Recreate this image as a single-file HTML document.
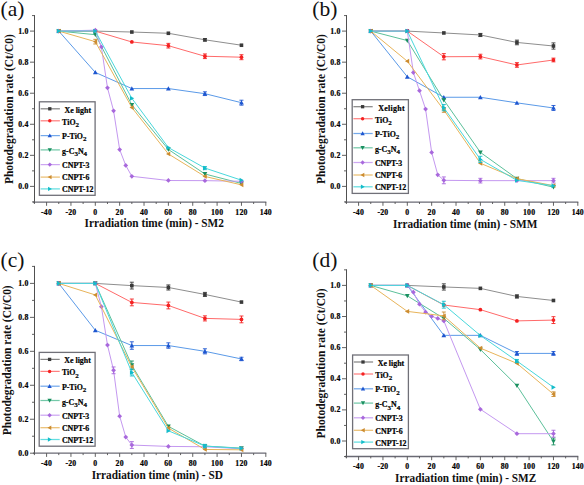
<!DOCTYPE html>
<html><head><meta charset="utf-8"><style>
html,body{margin:0;padding:0;background:#fff;}
svg{display:block;}
text{font-family:'Liberation Serif', serif;}
.t{font-size:7.8px;font-weight:bold;fill:#000;stroke:#000;stroke-width:0.2px;letter-spacing:0.2px;}
.al{font-size:12.7px;font-weight:bold;fill:#111;}
.pl{font-size:21.5px;fill:#111;}
.yl{font-size:12.7px;}
.lg{font-size:7.9px;font-weight:bold;fill:#000;stroke:#000;stroke-width:0.2px;}
.sb{font-size:7.03px;}
</style></head><body>
<svg width="584" height="485" viewBox="0 0 584 485">
<rect width="584" height="485" fill="#fff"/>
<g id="pa"><path d="M34.5 15.07V203.1" stroke="#505050" stroke-width="1.0" fill="none"/>
<path d="M33 202.1H266.32" stroke="#6a6a74" stroke-width="1.3" fill="none"/>
<path d="M34.4 202.1v1.9M46.58 202.1v3.7M58.76 202.1v1.9M70.94 202.1v3.7M83.12 202.1v1.9M95.3 202.1v3.7M107.48 202.1v1.9M119.66 202.1v3.7M131.84 202.1v1.9M144.02 202.1v3.7M156.2 202.1v1.9M168.38 202.1v3.7M180.56 202.1v1.9M192.74 202.1v3.7M204.92 202.1v1.9M217.1 202.1v3.7M229.28 202.1v1.9M241.46 202.1v3.7M253.64 202.1v1.9M265.82 202.1v3.7M34.5 201.93h-2.5M34.5 186.4h-4.5M34.5 170.87h-2.5M34.5 155.34h-4.5M34.5 139.81h-2.5M34.5 124.28h-4.5M34.5 108.75h-2.5M34.5 93.22h-4.5M34.5 77.69h-2.5M34.5 62.16h-4.5M34.5 46.63h-2.5M34.5 31.1h-4.5M34.5 15.57h-2.5" stroke="#505050" stroke-width="0.9" fill="none"/>
<text x="46.58" y="214.7" text-anchor="middle" class="t">-40</text>
<text x="70.94" y="214.7" text-anchor="middle" class="t">-20</text>
<text x="95.3" y="214.7" text-anchor="middle" class="t">0</text>
<text x="119.66" y="214.7" text-anchor="middle" class="t">20</text>
<text x="144.02" y="214.7" text-anchor="middle" class="t">40</text>
<text x="168.38" y="214.7" text-anchor="middle" class="t">60</text>
<text x="192.74" y="214.7" text-anchor="middle" class="t">80</text>
<text x="217.1" y="214.7" text-anchor="middle" class="t">100</text>
<text x="241.46" y="214.7" text-anchor="middle" class="t">120</text>
<text x="265.82" y="214.7" text-anchor="middle" class="t">140</text>
<text x="28.6" y="189" text-anchor="end" class="t">0.0</text>
<text x="28.6" y="157.94" text-anchor="end" class="t">0.2</text>
<text x="28.6" y="126.88" text-anchor="end" class="t">0.4</text>
<text x="28.6" y="95.82" text-anchor="end" class="t">0.6</text>
<text x="28.6" y="64.76" text-anchor="end" class="t">0.8</text>
<text x="28.6" y="33.7" text-anchor="end" class="t">1.0</text>
<text transform="translate(84.6 227.1) scale(0.89 1)" class="al">Irradiation time (min) - SM2</text>
<text transform="translate(12.8 184.1) rotate(-90) scale(0.901 1)" class="al yl">Photodegradation rate (Ct/C0)</text>
<text x="0.6" y="16.3" class="pl">(a)</text>
<polyline points="58.76,31.1 95.3,31.1 131.84,32.03 168.38,33.27 204.92,39.8 241.46,45.23" stroke="#8e8e8e" stroke-width="1.0" fill="none" stroke-linejoin="round"/>
<path d="M204.92 38.55V41.04M202.92 38.55h4M202.92 41.04h4" stroke="#3a3a3a" stroke-width="0.9" fill="none"/>
<rect x="56.96" y="29.3" width="3.6" height="3.6" fill="#3a3a3a"/>
<rect x="93.5" y="29.3" width="3.6" height="3.6" fill="#3a3a3a"/>
<rect x="130.04" y="30.23" width="3.6" height="3.6" fill="#3a3a3a"/>
<rect x="166.58" y="31.47" width="3.6" height="3.6" fill="#3a3a3a"/>
<rect x="203.12" y="38" width="3.6" height="3.6" fill="#3a3a3a"/>
<rect x="239.66" y="43.43" width="3.6" height="3.6" fill="#3a3a3a"/>
<polyline points="58.76,31.1 95.3,31.1 131.84,41.97 168.38,45.7 204.92,56.26 241.46,57.19" stroke="#ff6a6a" stroke-width="1.0" fill="none" stroke-linejoin="round"/>
<path d="M168.38 43.37V48.03M166.38 43.37h4M166.38 48.03h4M204.92 53.93V58.59M202.92 53.93h4M202.92 58.59h4M241.46 54.71V59.68M239.46 54.71h4M239.46 59.68h4" stroke="#f42222" stroke-width="0.9" fill="none"/>
<circle cx="58.76" cy="31.1" r="1.89" fill="#f42222"/>
<circle cx="95.3" cy="31.1" r="1.89" fill="#f42222"/>
<circle cx="131.84" cy="41.97" r="1.89" fill="#f42222"/>
<circle cx="168.38" cy="45.7" r="1.89" fill="#f42222"/>
<circle cx="204.92" cy="56.26" r="1.89" fill="#f42222"/>
<circle cx="241.46" cy="57.19" r="1.89" fill="#f42222"/>
<polyline points="58.76,31.1 95.3,72.41 131.84,88.56 168.38,88.56 204.92,93.69 241.46,102.69" stroke="#5b9ae8" stroke-width="1.0" fill="none" stroke-linejoin="round"/>
<path d="M204.92 91.82V95.55M202.92 91.82h4M202.92 95.55h4M241.46 100.21V105.18M239.46 100.21h4M239.46 105.18h4" stroke="#1e56d0" stroke-width="0.9" fill="none"/>
<polygon points="58.76,28.72 61.14,33 56.38,33" fill="#1e56d0"/>
<polygon points="95.3,70.03 97.68,74.31 92.92,74.31" fill="#1e56d0"/>
<polygon points="131.84,86.18 134.22,90.46 129.46,90.46" fill="#1e56d0"/>
<polygon points="168.38,86.18 170.76,90.46 166,90.46" fill="#1e56d0"/>
<polygon points="204.92,91.31 207.3,95.59 202.54,95.59" fill="#1e56d0"/>
<polygon points="241.46,100.32 243.84,104.59 239.08,104.59" fill="#1e56d0"/>
<polyline points="58.76,31.1 95.3,34.67 131.84,104.87 168.38,149.44 204.92,173.98 241.46,183.45" stroke="#5cc09a" stroke-width="1.0" fill="none" stroke-linejoin="round"/>
<polygon points="58.76,33.48 61.14,29.2 56.38,29.2" fill="#1a9060"/>
<polygon points="95.3,37.05 97.68,32.77 92.92,32.77" fill="#1a9060"/>
<polygon points="131.84,107.24 134.22,102.97 129.46,102.97" fill="#1a9060"/>
<polygon points="168.38,151.81 170.76,147.54 166,147.54" fill="#1a9060"/>
<polygon points="204.92,176.35 207.3,172.08 202.54,172.08" fill="#1a9060"/>
<polygon points="241.46,185.83 243.84,181.55 239.08,181.55" fill="#1a9060"/>
<polyline points="58.76,31.1 95.3,30.17 101.39,46.94 107.48,87.78 113.57,110.77 119.66,149.59 125.75,165.43 131.84,176.31 168.38,180.5 204.92,180.65 241.46,181.28" stroke="#c498f0" stroke-width="1.0" fill="none" stroke-linejoin="round"/>
<polygon points="58.76,28.72 61.14,31.1 58.76,33.48 56.38,31.1" fill="#a868dc"/>
<polygon points="95.3,27.79 97.68,30.17 95.3,32.54 92.92,30.17" fill="#a868dc"/>
<polygon points="101.39,44.56 103.77,46.94 101.39,49.32 99.01,46.94" fill="#a868dc"/>
<polygon points="107.48,85.41 109.86,87.78 107.48,90.16 105.1,87.78" fill="#a868dc"/>
<polygon points="113.57,108.39 115.95,110.77 113.57,113.14 111.19,110.77" fill="#a868dc"/>
<polygon points="119.66,147.22 122.04,149.59 119.66,151.97 117.28,149.59" fill="#a868dc"/>
<polygon points="125.75,163.06 128.13,165.43 125.75,167.81 123.37,165.43" fill="#a868dc"/>
<polygon points="131.84,173.93 134.22,176.31 131.84,178.68 129.46,176.31" fill="#a868dc"/>
<polygon points="168.38,178.12 170.76,180.5 168.38,182.87 166,180.5" fill="#a868dc"/>
<polygon points="204.92,178.28 207.3,180.65 204.92,183.03 202.54,180.65" fill="#a868dc"/>
<polygon points="241.46,178.9 243.84,181.28 241.46,183.65 239.08,181.28" fill="#a868dc"/>
<polyline points="58.76,31.1 95.3,41.66 131.84,107.51 168.38,153.94 204.92,176.46 241.46,184.85" stroke="#e8b45a" stroke-width="1.0" fill="none" stroke-linejoin="round"/>
<path d="M95.3 39.33V43.99M93.3 39.33h4M93.3 43.99h4" stroke="#cc8c30" stroke-width="0.9" fill="none"/>
<polygon points="56.38,31.1 60.66,28.72 60.66,33.48" fill="#cc8c30"/>
<polygon points="92.92,41.66 97.2,39.28 97.2,44.04" fill="#cc8c30"/>
<polygon points="129.46,107.51 133.74,105.13 133.74,109.88" fill="#cc8c30"/>
<polygon points="166,153.94 170.28,151.57 170.28,156.32" fill="#cc8c30"/>
<polygon points="202.54,176.46 206.82,174.08 206.82,178.84" fill="#cc8c30"/>
<polygon points="239.08,184.85 243.36,182.47 243.36,187.22" fill="#cc8c30"/>
<polyline points="58.76,31.1 95.3,31.1 131.84,98.34 168.38,147.57 204.92,168.07 241.46,180.19" stroke="#48d8dc" stroke-width="1.0" fill="none" stroke-linejoin="round"/>
<path d="M204.92 166.52V169.63M202.92 166.52h4M202.92 169.63h4" stroke="#14bcca" stroke-width="0.9" fill="none"/>
<polygon points="61.14,31.1 56.86,28.72 56.86,33.48" fill="#14bcca"/>
<polygon points="97.68,31.1 93.4,28.72 93.4,33.48" fill="#14bcca"/>
<polygon points="134.22,98.34 129.94,95.97 129.94,100.72" fill="#14bcca"/>
<polygon points="170.76,147.57 166.48,145.2 166.48,149.95" fill="#14bcca"/>
<polygon points="207.3,168.07 203.02,165.7 203.02,170.45" fill="#14bcca"/>
<polygon points="243.84,180.19 239.56,177.81 239.56,182.56" fill="#14bcca"/>
<rect x="39.4" y="101.8" width="55.7" height="93.5" fill="#fff" stroke="#707078" stroke-width="1.3"/>
<path d="M40.6 108.8H59.9" stroke="#858585" stroke-width="1.25"/>
<rect x="48.15" y="107.15" width="3.3" height="3.3" fill="#3a3a3a"/>
<text x="64.5" y="112.6" class="lg">Xe light</text>
<path d="M40.6 120.8H59.9" stroke="#ff8080" stroke-width="1.25"/>
<circle cx="49.8" cy="120.8" r="1.73" fill="#f42222"/>
<text x="62.1" y="124.8" class="lg">TiO<tspan class="sb" dy="2.1">2</tspan></text>
<path d="M40.6 135.6H59.9" stroke="#74a9eb" stroke-width="1.25"/>
<polygon points="49.8,133.42 51.98,137.34 47.62,137.34" fill="#1e56d0"/>
<text x="62.1" y="139.2" class="lg">P-TiO<tspan class="sb" dy="2.1">2</tspan></text>
<path d="M40.6 149.9H59.9" stroke="#74c9a9" stroke-width="1.25"/>
<polygon points="49.8,152.08 51.98,148.16 47.62,148.16" fill="#1a9060"/>
<text x="62.1" y="154.2" class="lg">g-C<tspan class="sb" dy="2.1">3</tspan><tspan dy="-2.1">N</tspan><tspan class="sb" dy="2.1">4</tspan></text>
<path d="M40.6 164.6H59.9" stroke="#cda7f2" stroke-width="1.25"/>
<polygon points="49.8,162.42 51.98,164.6 49.8,166.78 47.62,164.6" fill="#a868dc"/>
<text x="62.1" y="168.1" class="lg">CNPT-3</text>
<path d="M40.6 177.1H59.9" stroke="#ebbf73" stroke-width="1.25"/>
<polygon points="47.62,177.1 51.54,174.92 51.54,179.28" fill="#cc8c30"/>
<text x="62.1" y="180.4" class="lg">CNPT-6</text>
<path d="M40.6 188.9H59.9" stroke="#63dee1" stroke-width="1.25"/>
<polygon points="51.98,188.9 48.06,186.72 48.06,191.08" fill="#14bcca"/>
<text x="62.1" y="192.4" class="lg">CNPT-12</text></g>
<g id="pb"><path d="M346.5 15.07V203.1" stroke="#505050" stroke-width="1.0" fill="none"/>
<path d="M345 202.1H578.32" stroke="#6a6a74" stroke-width="1.3" fill="none"/>
<path d="M346.4 202.1v1.9M358.58 202.1v3.7M370.76 202.1v1.9M382.94 202.1v3.7M395.12 202.1v1.9M407.3 202.1v3.7M419.48 202.1v1.9M431.66 202.1v3.7M443.84 202.1v1.9M456.02 202.1v3.7M468.2 202.1v1.9M480.38 202.1v3.7M492.56 202.1v1.9M504.74 202.1v3.7M516.92 202.1v1.9M529.1 202.1v3.7M541.28 202.1v1.9M553.46 202.1v3.7M565.64 202.1v1.9M577.82 202.1v3.7M346.5 201.93h-2.5M346.5 186.4h-4.5M346.5 170.87h-2.5M346.5 155.34h-4.5M346.5 139.81h-2.5M346.5 124.28h-4.5M346.5 108.75h-2.5M346.5 93.22h-4.5M346.5 77.69h-2.5M346.5 62.16h-4.5M346.5 46.63h-2.5M346.5 31.1h-4.5M346.5 15.57h-2.5" stroke="#505050" stroke-width="0.9" fill="none"/>
<text x="358.58" y="214.7" text-anchor="middle" class="t">-40</text>
<text x="382.94" y="214.7" text-anchor="middle" class="t">-20</text>
<text x="407.3" y="214.7" text-anchor="middle" class="t">0</text>
<text x="431.66" y="214.7" text-anchor="middle" class="t">20</text>
<text x="456.02" y="214.7" text-anchor="middle" class="t">40</text>
<text x="480.38" y="214.7" text-anchor="middle" class="t">60</text>
<text x="504.74" y="214.7" text-anchor="middle" class="t">80</text>
<text x="529.1" y="214.7" text-anchor="middle" class="t">100</text>
<text x="553.46" y="214.7" text-anchor="middle" class="t">120</text>
<text x="577.82" y="214.7" text-anchor="middle" class="t">140</text>
<text x="340.6" y="189" text-anchor="end" class="t">0.0</text>
<text x="340.6" y="157.94" text-anchor="end" class="t">0.2</text>
<text x="340.6" y="126.88" text-anchor="end" class="t">0.4</text>
<text x="340.6" y="95.82" text-anchor="end" class="t">0.6</text>
<text x="340.6" y="64.76" text-anchor="end" class="t">0.8</text>
<text x="340.6" y="33.7" text-anchor="end" class="t">1.0</text>
<text transform="translate(393 227.5) scale(0.89 1)" class="al">Irradiation time (min) - SMM</text>
<text transform="translate(324.6 184.1) rotate(-90) scale(0.901 1)" class="al yl">Photodegradation rate (Ct/C0)</text>
<text x="312.3" y="16.1" class="pl">(b)</text>
<polyline points="370.76,31.1 407.3,31.1 443.84,32.96 480.38,34.98 516.92,42.44 553.46,46.01" stroke="#8e8e8e" stroke-width="1.0" fill="none" stroke-linejoin="round"/>
<path d="M480.38 33.43V36.54M478.38 33.43h4M478.38 36.54h4M516.92 40.11V44.77M514.92 40.11h4M514.92 44.77h4M553.46 42.9V49.11M551.46 42.9h4M551.46 49.11h4" stroke="#3a3a3a" stroke-width="0.9" fill="none"/>
<rect x="368.96" y="29.3" width="3.6" height="3.6" fill="#3a3a3a"/>
<rect x="405.5" y="29.3" width="3.6" height="3.6" fill="#3a3a3a"/>
<rect x="442.04" y="31.16" width="3.6" height="3.6" fill="#3a3a3a"/>
<rect x="478.58" y="33.18" width="3.6" height="3.6" fill="#3a3a3a"/>
<rect x="515.12" y="40.64" width="3.6" height="3.6" fill="#3a3a3a"/>
<rect x="551.66" y="44.21" width="3.6" height="3.6" fill="#3a3a3a"/>
<polyline points="370.76,31.1 407.3,31.1 443.84,56.72 480.38,56.57 516.92,64.96 553.46,59.99" stroke="#ff6a6a" stroke-width="1.0" fill="none" stroke-linejoin="round"/>
<path d="M443.84 53.62V59.83M441.84 53.62h4M441.84 59.83h4M480.38 54.24V58.9M478.38 54.24h4M478.38 58.9h4M516.92 62.63V67.28M514.92 62.63h4M514.92 67.28h4M553.46 58.12V61.85M551.46 58.12h4M551.46 61.85h4" stroke="#f42222" stroke-width="0.9" fill="none"/>
<circle cx="370.76" cy="31.1" r="1.89" fill="#f42222"/>
<circle cx="407.3" cy="31.1" r="1.89" fill="#f42222"/>
<circle cx="443.84" cy="56.72" r="1.89" fill="#f42222"/>
<circle cx="480.38" cy="56.57" r="1.89" fill="#f42222"/>
<circle cx="516.92" cy="64.96" r="1.89" fill="#f42222"/>
<circle cx="553.46" cy="59.99" r="1.89" fill="#f42222"/>
<polyline points="370.76,31.1 407.3,76.76 443.84,97.26 480.38,97.26 516.92,102.85 553.46,107.97" stroke="#5b9ae8" stroke-width="1.0" fill="none" stroke-linejoin="round"/>
<path d="M553.46 105.49V110.46M551.46 105.49h4M551.46 110.46h4" stroke="#1e56d0" stroke-width="0.9" fill="none"/>
<polygon points="370.76,28.72 373.14,33 368.38,33" fill="#1e56d0"/>
<polygon points="407.3,74.38 409.68,78.66 404.92,78.66" fill="#1e56d0"/>
<polygon points="443.84,94.88 446.22,99.16 441.46,99.16" fill="#1e56d0"/>
<polygon points="480.38,94.88 482.76,99.16 478,99.16" fill="#1e56d0"/>
<polygon points="516.92,100.47 519.3,104.75 514.54,104.75" fill="#1e56d0"/>
<polygon points="553.46,105.6 555.84,109.87 551.08,109.87" fill="#1e56d0"/>
<polyline points="370.76,31.1 407.3,40.57 443.84,100.05 480.38,152.39 516.92,178.63 553.46,187.18" stroke="#5cc09a" stroke-width="1.0" fill="none" stroke-linejoin="round"/>
<polygon points="370.76,33.48 373.14,29.2 368.38,29.2" fill="#1a9060"/>
<polygon points="407.3,42.95 409.68,38.67 404.92,38.67" fill="#1a9060"/>
<polygon points="443.84,102.43 446.22,98.15 441.46,98.15" fill="#1a9060"/>
<polygon points="480.38,154.77 482.76,150.49 478,150.49" fill="#1a9060"/>
<polygon points="516.92,181.01 519.3,176.73 514.54,176.73" fill="#1a9060"/>
<polygon points="553.46,189.55 555.84,185.28 551.08,185.28" fill="#1a9060"/>
<polyline points="370.76,31.1 407.3,31.1 413.39,72.57 419.48,90.74 425.57,109.06 431.66,152.39 437.75,174.75 443.84,180.34 480.38,180.65 516.92,180.65 553.46,180.65" stroke="#c498f0" stroke-width="1.0" fill="none" stroke-linejoin="round"/>
<path d="M443.84 176.93V183.76M441.84 176.93h4M441.84 183.76h4M480.38 178.32V182.98M478.38 178.32h4M478.38 182.98h4M553.46 178.32V182.98M551.46 178.32h4M551.46 182.98h4" stroke="#a868dc" stroke-width="0.9" fill="none"/>
<polygon points="370.76,28.72 373.14,31.1 370.76,33.48 368.38,31.1" fill="#a868dc"/>
<polygon points="407.3,28.72 409.68,31.1 407.3,33.48 404.92,31.1" fill="#a868dc"/>
<polygon points="413.39,70.19 415.77,72.57 413.39,74.94 411.01,72.57" fill="#a868dc"/>
<polygon points="419.48,88.36 421.86,90.74 419.48,93.11 417.1,90.74" fill="#a868dc"/>
<polygon points="425.57,106.68 427.95,109.06 425.57,111.44 423.19,109.06" fill="#a868dc"/>
<polygon points="431.66,150.01 434.04,152.39 431.66,154.77 429.28,152.39" fill="#a868dc"/>
<polygon points="437.75,172.38 440.13,174.75 437.75,177.13 435.37,174.75" fill="#a868dc"/>
<polygon points="443.84,177.97 446.22,180.34 443.84,182.72 441.46,180.34" fill="#a868dc"/>
<polygon points="480.38,178.28 482.76,180.65 480.38,183.03 478,180.65" fill="#a868dc"/>
<polygon points="516.92,178.28 519.3,180.65 516.92,183.03 514.54,180.65" fill="#a868dc"/>
<polygon points="553.46,178.28 555.84,180.65 553.46,183.03 551.08,180.65" fill="#a868dc"/>
<polyline points="370.76,31.1 407.3,61.23 443.84,109.99 480.38,163.26 516.92,178.63 553.46,185.62" stroke="#e8b45a" stroke-width="1.0" fill="none" stroke-linejoin="round"/>
<path d="M443.84 107.66V112.32M441.84 107.66h4M441.84 112.32h4" stroke="#cc8c30" stroke-width="0.9" fill="none"/>
<polygon points="368.38,31.1 372.66,28.72 372.66,33.48" fill="#cc8c30"/>
<polygon points="404.92,61.23 409.2,58.85 409.2,63.6" fill="#cc8c30"/>
<polygon points="441.46,109.99 445.74,107.62 445.74,112.37" fill="#cc8c30"/>
<polygon points="478,163.26 482.28,160.88 482.28,165.64" fill="#cc8c30"/>
<polygon points="514.54,178.63 518.82,176.26 518.82,181.01" fill="#cc8c30"/>
<polygon points="551.08,185.62 555.36,183.25 555.36,188" fill="#cc8c30"/>
<polyline points="370.76,31.1 407.3,31.1 443.84,107.66 480.38,159.38 516.92,180.34 553.46,185.78" stroke="#48d8dc" stroke-width="1.0" fill="none" stroke-linejoin="round"/>
<path d="M443.84 104.56V110.77M441.84 104.56h4M441.84 110.77h4M480.38 156.27V162.48M478.38 156.27h4M478.38 162.48h4" stroke="#14bcca" stroke-width="0.9" fill="none"/>
<polygon points="373.14,31.1 368.86,28.72 368.86,33.48" fill="#14bcca"/>
<polygon points="409.68,31.1 405.4,28.72 405.4,33.48" fill="#14bcca"/>
<polygon points="446.22,107.66 441.94,105.29 441.94,110.04" fill="#14bcca"/>
<polygon points="482.76,159.38 478.48,157 478.48,161.75" fill="#14bcca"/>
<polygon points="519.3,180.34 515.02,177.97 515.02,182.72" fill="#14bcca"/>
<polygon points="555.84,185.78 551.56,183.4 551.56,188.15" fill="#14bcca"/>
<rect x="352.2" y="99.7" width="56.2" height="93.7" fill="#fff" stroke="#707078" stroke-width="1.3"/>
<path d="M353.4 106.7H372.7" stroke="#858585" stroke-width="1.25"/>
<rect x="360.95" y="105.05" width="3.3" height="3.3" fill="#3a3a3a"/>
<text x="378.2" y="110.5" class="lg" style="letter-spacing:0.3px">Xelight</text>
<path d="M353.4 118.7H372.7" stroke="#ff8080" stroke-width="1.25"/>
<circle cx="362.6" cy="118.7" r="1.73" fill="#f42222"/>
<text x="374.9" y="122.7" class="lg">TiO<tspan class="sb" dy="2.1">2</tspan></text>
<path d="M353.4 133.5H372.7" stroke="#74a9eb" stroke-width="1.25"/>
<polygon points="362.6,131.32 364.78,135.24 360.42,135.24" fill="#1e56d0"/>
<text x="374.9" y="137.1" class="lg">P-TiO<tspan class="sb" dy="2.1">2</tspan></text>
<path d="M353.4 147.8H372.7" stroke="#74c9a9" stroke-width="1.25"/>
<polygon points="362.6,149.98 364.78,146.06 360.42,146.06" fill="#1a9060"/>
<text x="374.9" y="152.1" class="lg">g-C<tspan class="sb" dy="2.1">3</tspan><tspan dy="-2.1">N</tspan><tspan class="sb" dy="2.1">4</tspan></text>
<path d="M353.4 162.5H372.7" stroke="#cda7f2" stroke-width="1.25"/>
<polygon points="362.6,160.32 364.78,162.5 362.6,164.68 360.42,162.5" fill="#a868dc"/>
<text x="374.9" y="166" class="lg">CNPT-3</text>
<path d="M353.4 175H372.7" stroke="#ebbf73" stroke-width="1.25"/>
<polygon points="360.42,175 364.34,172.82 364.34,177.18" fill="#cc8c30"/>
<text x="374.9" y="178.3" class="lg">CNPT-6</text>
<path d="M353.4 186.8H372.7" stroke="#63dee1" stroke-width="1.25"/>
<polygon points="364.78,186.8 360.86,184.62 360.86,188.98" fill="#14bcca"/>
<text x="374.9" y="190.3" class="lg">CNPT-12</text></g>
<g id="pc"><path d="M34.5 265.9V454.2" stroke="#505050" stroke-width="1.0" fill="none"/>
<path d="M33 453.2H266.32" stroke="#6a6a74" stroke-width="1.3" fill="none"/>
<path d="M34.4 453.2v1.9M46.58 453.2v3.7M58.76 453.2v1.9M70.94 453.2v3.7M83.12 453.2v1.9M95.3 453.2v3.7M107.48 453.2v1.9M119.66 453.2v3.7M131.84 453.2v1.9M144.02 453.2v3.7M156.2 453.2v1.9M168.38 453.2v3.7M180.56 453.2v1.9M192.74 453.2v3.7M204.92 453.2v1.9M217.1 453.2v3.7M229.28 453.2v1.9M241.46 453.2v3.7M253.64 453.2v1.9M265.82 453.2v3.7M34.5 453.2h-4.5M34.5 436.22h-2.5M34.5 419.24h-4.5M34.5 402.26h-2.5M34.5 385.28h-4.5M34.5 368.3h-2.5M34.5 351.32h-4.5M34.5 334.34h-2.5M34.5 317.36h-4.5M34.5 300.38h-2.5M34.5 283.4h-4.5M34.5 266.42h-2.5" stroke="#505050" stroke-width="0.9" fill="none"/>
<text x="46.58" y="465.8" text-anchor="middle" class="t">-40</text>
<text x="70.94" y="465.8" text-anchor="middle" class="t">-20</text>
<text x="95.3" y="465.8" text-anchor="middle" class="t">0</text>
<text x="119.66" y="465.8" text-anchor="middle" class="t">20</text>
<text x="144.02" y="465.8" text-anchor="middle" class="t">40</text>
<text x="168.38" y="465.8" text-anchor="middle" class="t">60</text>
<text x="192.74" y="465.8" text-anchor="middle" class="t">80</text>
<text x="217.1" y="465.8" text-anchor="middle" class="t">100</text>
<text x="241.46" y="465.8" text-anchor="middle" class="t">120</text>
<text x="265.82" y="465.8" text-anchor="middle" class="t">140</text>
<text x="28.6" y="455.8" text-anchor="end" class="t">0.0</text>
<text x="28.6" y="421.84" text-anchor="end" class="t">0.2</text>
<text x="28.6" y="387.88" text-anchor="end" class="t">0.4</text>
<text x="28.6" y="353.92" text-anchor="end" class="t">0.6</text>
<text x="28.6" y="319.96" text-anchor="end" class="t">0.8</text>
<text x="28.6" y="286" text-anchor="end" class="t">1.0</text>
<text transform="translate(91.7 479.4) scale(0.89 1)" class="al">Irradiation time (min) - SD</text>
<text transform="translate(10.9 435.2) rotate(-90) scale(0.901 1)" class="al yl">Photodegradation rate (Ct/C0)</text>
<text x="0.6" y="266.8" class="pl">(c)</text>
<polyline points="58.76,283.4 95.3,283.4 131.84,285.61 168.38,287.48 204.92,294.44 241.46,302.08" stroke="#8e8e8e" stroke-width="1.0" fill="none" stroke-linejoin="round"/>
<path d="M131.84 282.21V289M129.84 282.21h4M129.84 289h4M168.38 284.93V290.02M166.38 284.93h4M166.38 290.02h4M204.92 292.4V296.47M202.92 292.4h4M202.92 296.47h4" stroke="#3a3a3a" stroke-width="0.9" fill="none"/>
<rect x="56.96" y="281.6" width="3.6" height="3.6" fill="#3a3a3a"/>
<rect x="93.5" y="281.6" width="3.6" height="3.6" fill="#3a3a3a"/>
<rect x="130.04" y="283.81" width="3.6" height="3.6" fill="#3a3a3a"/>
<rect x="166.58" y="285.68" width="3.6" height="3.6" fill="#3a3a3a"/>
<rect x="203.12" y="292.64" width="3.6" height="3.6" fill="#3a3a3a"/>
<rect x="239.66" y="300.28" width="3.6" height="3.6" fill="#3a3a3a"/>
<polyline points="58.76,283.4 95.3,283.4 131.84,302.42 168.38,305.47 204.92,318.38 241.46,319.4" stroke="#ff6a6a" stroke-width="1.0" fill="none" stroke-linejoin="round"/>
<path d="M131.84 299.02V305.81M129.84 299.02h4M129.84 305.81h4M168.38 302.08V308.87M166.38 302.08h4M166.38 308.87h4M204.92 315.83V320.93M202.92 315.83h4M202.92 320.93h4M241.46 316V322.79M239.46 316h4M239.46 322.79h4" stroke="#f42222" stroke-width="0.9" fill="none"/>
<circle cx="58.76" cy="283.4" r="1.89" fill="#f42222"/>
<circle cx="95.3" cy="283.4" r="1.89" fill="#f42222"/>
<circle cx="131.84" cy="302.42" r="1.89" fill="#f42222"/>
<circle cx="168.38" cy="305.47" r="1.89" fill="#f42222"/>
<circle cx="204.92" cy="318.38" r="1.89" fill="#f42222"/>
<circle cx="241.46" cy="319.4" r="1.89" fill="#f42222"/>
<polyline points="58.76,283.4 95.3,330.26 131.84,345.55 168.38,345.55 204.92,351.32 241.46,358.96" stroke="#5b9ae8" stroke-width="1.0" fill="none" stroke-linejoin="round"/>
<path d="M131.84 341.81V349.28M129.84 341.81h4M129.84 349.28h4M168.38 342.83V348.26M166.38 342.83h4M166.38 348.26h4M204.92 348.77V353.87M202.92 348.77h4M202.92 353.87h4M241.46 357.26V360.66M239.46 357.26h4M239.46 360.66h4" stroke="#1e56d0" stroke-width="0.9" fill="none"/>
<polygon points="58.76,281.02 61.14,285.3 56.38,285.3" fill="#1e56d0"/>
<polygon points="95.3,327.89 97.68,332.17 92.92,332.17" fill="#1e56d0"/>
<polygon points="131.84,343.17 134.22,347.45 129.46,347.45" fill="#1e56d0"/>
<polygon points="168.38,343.17 170.76,347.45 166,347.45" fill="#1e56d0"/>
<polygon points="204.92,348.94 207.3,353.22 202.54,353.22" fill="#1e56d0"/>
<polygon points="241.46,356.58 243.84,360.86 239.08,360.86" fill="#1e56d0"/>
<polyline points="58.76,283.4 95.3,283.4 131.84,365.24 168.38,426.37 204.92,446.07 241.46,448.11" stroke="#5cc09a" stroke-width="1.0" fill="none" stroke-linejoin="round"/>
<path d="M131.84 361V369.49M129.84 361h4M129.84 369.49h4" stroke="#1a9060" stroke-width="0.9" fill="none"/>
<polygon points="58.76,285.78 61.14,281.5 56.38,281.5" fill="#1a9060"/>
<polygon points="95.3,285.78 97.68,281.5 92.92,281.5" fill="#1a9060"/>
<polygon points="131.84,367.62 134.22,363.34 129.46,363.34" fill="#1a9060"/>
<polygon points="168.38,428.75 170.76,424.47 166,424.47" fill="#1a9060"/>
<polygon points="204.92,448.44 207.3,444.17 202.54,444.17" fill="#1a9060"/>
<polygon points="241.46,450.48 243.84,446.21 239.08,446.21" fill="#1a9060"/>
<polyline points="58.76,283.4 95.3,283.4 101.39,306.66 107.48,345.04 113.57,370.34 119.66,416.18 125.75,437.07 131.84,445.05 168.38,446.41 204.92,446.75 241.46,448.79" stroke="#c498f0" stroke-width="1.0" fill="none" stroke-linejoin="round"/>
<path d="M113.57 366.94V373.73M111.57 366.94h4M111.57 373.73h4M131.84 441.65V448.45M129.84 441.65h4M129.84 448.45h4" stroke="#a868dc" stroke-width="0.9" fill="none"/>
<polygon points="58.76,281.02 61.14,283.4 58.76,285.78 56.38,283.4" fill="#a868dc"/>
<polygon points="95.3,281.02 97.68,283.4 95.3,285.78 92.92,283.4" fill="#a868dc"/>
<polygon points="101.39,304.29 103.77,306.66 101.39,309.04 99.01,306.66" fill="#a868dc"/>
<polygon points="107.48,342.66 109.86,345.04 107.48,347.41 105.1,345.04" fill="#a868dc"/>
<polygon points="113.57,367.96 115.95,370.34 113.57,372.71 111.19,370.34" fill="#a868dc"/>
<polygon points="119.66,413.81 122.04,416.18 119.66,418.56 117.28,416.18" fill="#a868dc"/>
<polygon points="125.75,434.69 128.13,437.07 125.75,439.44 123.37,437.07" fill="#a868dc"/>
<polygon points="131.84,442.67 134.22,445.05 131.84,447.43 129.46,445.05" fill="#a868dc"/>
<polygon points="168.38,444.03 170.76,446.41 168.38,448.78 166,446.41" fill="#a868dc"/>
<polygon points="204.92,444.37 207.3,446.75 204.92,449.12 202.54,446.75" fill="#a868dc"/>
<polygon points="241.46,446.41 243.84,448.79 241.46,451.16 239.08,448.79" fill="#a868dc"/>
<polyline points="58.76,283.4 95.3,294.95 131.84,366.94 168.38,428.07 204.92,449.46 241.46,449.8" stroke="#e8b45a" stroke-width="1.0" fill="none" stroke-linejoin="round"/>
<polygon points="56.38,283.4 60.66,281.02 60.66,285.78" fill="#cc8c30"/>
<polygon points="92.92,294.95 97.2,292.57 97.2,297.32" fill="#cc8c30"/>
<polygon points="129.46,366.94 133.74,364.57 133.74,369.32" fill="#cc8c30"/>
<polygon points="166,428.07 170.28,425.69 170.28,430.45" fill="#cc8c30"/>
<polygon points="202.54,449.46 206.82,447.09 206.82,451.84" fill="#cc8c30"/>
<polygon points="239.08,449.8 243.36,447.43 243.36,452.18" fill="#cc8c30"/>
<polyline points="58.76,283.4 95.3,283.4 131.84,372.54 168.38,430.79 204.92,446.07 241.46,448.45" stroke="#48d8dc" stroke-width="1.0" fill="none" stroke-linejoin="round"/>
<path d="M131.84 369.15V375.94M129.84 369.15h4M129.84 375.94h4M204.92 444.37V447.77M202.92 444.37h4M202.92 447.77h4" stroke="#14bcca" stroke-width="0.9" fill="none"/>
<polygon points="61.14,283.4 56.86,281.02 56.86,285.78" fill="#14bcca"/>
<polygon points="97.68,283.4 93.4,281.02 93.4,285.78" fill="#14bcca"/>
<polygon points="134.22,372.54 129.94,370.17 129.94,374.92" fill="#14bcca"/>
<polygon points="170.76,430.79 166.48,428.41 166.48,433.16" fill="#14bcca"/>
<polygon points="207.3,446.07 203.02,443.69 203.02,448.44" fill="#14bcca"/>
<polygon points="243.84,448.45 239.56,446.07 239.56,450.82" fill="#14bcca"/>
<rect x="39.2" y="352.4" width="55.9" height="93.8" fill="#fff" stroke="#707078" stroke-width="1.3"/>
<path d="M40.4 359.4H59.7" stroke="#858585" stroke-width="1.25"/>
<rect x="47.95" y="357.75" width="3.3" height="3.3" fill="#3a3a3a"/>
<text x="64.3" y="363.2" class="lg">Xe light</text>
<path d="M40.4 371.4H59.7" stroke="#ff8080" stroke-width="1.25"/>
<circle cx="49.6" cy="371.4" r="1.73" fill="#f42222"/>
<text x="61.9" y="375.4" class="lg">TiO<tspan class="sb" dy="2.1">2</tspan></text>
<path d="M40.4 386.2H59.7" stroke="#74a9eb" stroke-width="1.25"/>
<polygon points="49.6,384.02 51.78,387.94 47.42,387.94" fill="#1e56d0"/>
<text x="61.9" y="389.8" class="lg">P-TiO<tspan class="sb" dy="2.1">2</tspan></text>
<path d="M40.4 400.5H59.7" stroke="#74c9a9" stroke-width="1.25"/>
<polygon points="49.6,402.68 51.78,398.76 47.42,398.76" fill="#1a9060"/>
<text x="61.9" y="404.8" class="lg">g-C<tspan class="sb" dy="2.1">3</tspan><tspan dy="-2.1">N</tspan><tspan class="sb" dy="2.1">4</tspan></text>
<path d="M40.4 415.2H59.7" stroke="#cda7f2" stroke-width="1.25"/>
<polygon points="49.6,413.02 51.78,415.2 49.6,417.38 47.42,415.2" fill="#a868dc"/>
<text x="61.9" y="418.7" class="lg">CNPT-3</text>
<path d="M40.4 427.7H59.7" stroke="#ebbf73" stroke-width="1.25"/>
<polygon points="47.42,427.7 51.34,425.52 51.34,429.88" fill="#cc8c30"/>
<text x="61.9" y="431" class="lg">CNPT-6</text>
<path d="M40.4 439.5H59.7" stroke="#63dee1" stroke-width="1.25"/>
<polygon points="51.78,439.5 47.86,437.32 47.86,441.68" fill="#14bcca"/>
<text x="61.9" y="443" class="lg">CNPT-12</text></g>
<g id="pd"><path d="M346.5 269.3V457.5" stroke="#505050" stroke-width="1.0" fill="none"/>
<path d="M345 456.5H578.32" stroke="#6a6a74" stroke-width="1.3" fill="none"/>
<path d="M346.4 456.5v1.9M358.58 456.5v3.7M370.76 456.5v1.9M382.94 456.5v3.7M395.12 456.5v1.9M407.3 456.5v3.7M419.48 456.5v1.9M431.66 456.5v3.7M443.84 456.5v1.9M456.02 456.5v3.7M468.2 456.5v1.9M480.38 456.5v3.7M492.56 456.5v1.9M504.74 456.5v3.7M516.92 456.5v1.9M529.1 456.5v3.7M541.28 456.5v1.9M553.46 456.5v3.7M565.64 456.5v1.9M577.82 456.5v3.7M346.5 456.56h-2.5M346.5 441h-4.5M346.5 425.44h-2.5M346.5 409.88h-4.5M346.5 394.32h-2.5M346.5 378.76h-4.5M346.5 363.2h-2.5M346.5 347.64h-4.5M346.5 332.08h-2.5M346.5 316.52h-4.5M346.5 300.96h-2.5M346.5 285.4h-4.5M346.5 269.84h-2.5" stroke="#505050" stroke-width="0.9" fill="none"/>
<text x="358.58" y="469.1" text-anchor="middle" class="t">-40</text>
<text x="382.94" y="469.1" text-anchor="middle" class="t">-20</text>
<text x="407.3" y="469.1" text-anchor="middle" class="t">0</text>
<text x="431.66" y="469.1" text-anchor="middle" class="t">20</text>
<text x="456.02" y="469.1" text-anchor="middle" class="t">40</text>
<text x="480.38" y="469.1" text-anchor="middle" class="t">60</text>
<text x="504.74" y="469.1" text-anchor="middle" class="t">80</text>
<text x="529.1" y="469.1" text-anchor="middle" class="t">100</text>
<text x="553.46" y="469.1" text-anchor="middle" class="t">120</text>
<text x="577.82" y="469.1" text-anchor="middle" class="t">140</text>
<text x="340.6" y="443.6" text-anchor="end" class="t">0.0</text>
<text x="340.6" y="412.48" text-anchor="end" class="t">0.2</text>
<text x="340.6" y="381.36" text-anchor="end" class="t">0.4</text>
<text x="340.6" y="350.24" text-anchor="end" class="t">0.6</text>
<text x="340.6" y="319.12" text-anchor="end" class="t">0.8</text>
<text x="340.6" y="288" text-anchor="end" class="t">1.0</text>
<text transform="translate(395.1 481.5) scale(0.89 1)" class="al">Irradiation time (min) - SMZ</text>
<text transform="translate(324.6 438.4) rotate(-90) scale(0.901 1)" class="al yl">Photodegradation rate (Ct/C0)</text>
<text x="312.3" y="266.6" class="pl">(d)</text>
<polyline points="370.76,285.4 407.3,285.4 443.84,286.96 480.38,288.36 516.92,296.45 553.46,300.49" stroke="#8e8e8e" stroke-width="1.0" fill="none" stroke-linejoin="round"/>
<path d="M443.84 283.84V290.07M441.84 283.84h4M441.84 290.07h4M516.92 294.89V298M514.92 294.89h4M514.92 298h4" stroke="#3a3a3a" stroke-width="0.9" fill="none"/>
<rect x="368.96" y="283.6" width="3.6" height="3.6" fill="#3a3a3a"/>
<rect x="405.5" y="283.6" width="3.6" height="3.6" fill="#3a3a3a"/>
<rect x="442.04" y="285.16" width="3.6" height="3.6" fill="#3a3a3a"/>
<rect x="478.58" y="286.56" width="3.6" height="3.6" fill="#3a3a3a"/>
<rect x="515.12" y="294.65" width="3.6" height="3.6" fill="#3a3a3a"/>
<rect x="551.66" y="298.69" width="3.6" height="3.6" fill="#3a3a3a"/>
<polyline points="370.76,285.4 407.3,285.4 443.84,305.01 480.38,309.67 516.92,320.88 553.46,320.1" stroke="#ff6a6a" stroke-width="1.0" fill="none" stroke-linejoin="round"/>
<path d="M553.46 316.68V323.52M551.46 316.68h4M551.46 323.52h4" stroke="#f42222" stroke-width="0.9" fill="none"/>
<circle cx="370.76" cy="285.4" r="1.89" fill="#f42222"/>
<circle cx="407.3" cy="285.4" r="1.89" fill="#f42222"/>
<circle cx="443.84" cy="305.01" r="1.89" fill="#f42222"/>
<circle cx="480.38" cy="309.67" r="1.89" fill="#f42222"/>
<circle cx="516.92" cy="320.88" r="1.89" fill="#f42222"/>
<circle cx="553.46" cy="320.1" r="1.89" fill="#f42222"/>
<polyline points="370.76,285.4 407.3,285.4 443.84,335.35 480.38,335.35 516.92,353.4 553.46,353.4" stroke="#5b9ae8" stroke-width="1.0" fill="none" stroke-linejoin="round"/>
<path d="M516.92 351.53V355.26M514.92 351.53h4M514.92 355.26h4M553.46 351.53V355.26M551.46 351.53h4M551.46 355.26h4" stroke="#1e56d0" stroke-width="0.9" fill="none"/>
<polygon points="370.76,283.02 373.14,287.3 368.38,287.3" fill="#1e56d0"/>
<polygon points="407.3,283.02 409.68,287.3 404.92,287.3" fill="#1e56d0"/>
<polygon points="443.84,332.97 446.22,337.25 441.46,337.25" fill="#1e56d0"/>
<polygon points="480.38,332.97 482.76,337.25 478,337.25" fill="#1e56d0"/>
<polygon points="516.92,351.02 519.3,355.3 514.54,355.3" fill="#1e56d0"/>
<polygon points="553.46,351.02 555.84,355.3 551.08,355.3" fill="#1e56d0"/>
<polyline points="370.76,285.4 407.3,295.83 443.84,318.39 480.38,349.51 516.92,385.61 553.46,441.47" stroke="#5cc09a" stroke-width="1.0" fill="none" stroke-linejoin="round"/>
<path d="M553.46 438.04V444.89M551.46 438.04h4M551.46 444.89h4" stroke="#1a9060" stroke-width="0.9" fill="none"/>
<polygon points="370.76,287.78 373.14,283.5 368.38,283.5" fill="#1a9060"/>
<polygon points="407.3,298.2 409.68,293.92 404.92,293.92" fill="#1a9060"/>
<polygon points="443.84,320.76 446.22,316.49 441.46,316.49" fill="#1a9060"/>
<polygon points="480.38,351.88 482.76,347.61 478,347.61" fill="#1a9060"/>
<polygon points="516.92,387.98 519.3,383.71 514.54,383.71" fill="#1a9060"/>
<polygon points="553.46,443.84 555.84,439.57 551.08,439.57" fill="#1a9060"/>
<polyline points="370.76,285.4 407.3,285.4 413.39,292.25 419.48,304.23 425.57,312.16 431.66,316.36 437.75,318.39 443.84,320.88 480.38,409.26 516.92,433.69 553.46,433.69" stroke="#c498f0" stroke-width="1.0" fill="none" stroke-linejoin="round"/>
<path d="M553.46 430.26V437.11M551.46 430.26h4M551.46 437.11h4" stroke="#a868dc" stroke-width="0.9" fill="none"/>
<polygon points="370.76,283.02 373.14,285.4 370.76,287.78 368.38,285.4" fill="#a868dc"/>
<polygon points="407.3,283.02 409.68,285.4 407.3,287.78 404.92,285.4" fill="#a868dc"/>
<polygon points="413.39,289.87 415.77,292.25 413.39,294.62 411.01,292.25" fill="#a868dc"/>
<polygon points="419.48,301.85 421.86,304.23 419.48,306.6 417.1,304.23" fill="#a868dc"/>
<polygon points="425.57,309.79 427.95,312.16 425.57,314.54 423.19,312.16" fill="#a868dc"/>
<polygon points="431.66,313.99 434.04,316.36 431.66,318.74 429.28,316.36" fill="#a868dc"/>
<polygon points="437.75,316.01 440.13,318.39 437.75,320.76 435.37,318.39" fill="#a868dc"/>
<polygon points="443.84,318.5 446.22,320.88 443.84,323.25 441.46,320.88" fill="#a868dc"/>
<polygon points="480.38,406.88 482.76,409.26 480.38,411.63 478,409.26" fill="#a868dc"/>
<polygon points="516.92,431.31 519.3,433.69 516.92,436.06 514.54,433.69" fill="#a868dc"/>
<polygon points="553.46,431.31 555.84,433.69 553.46,436.06 551.08,433.69" fill="#a868dc"/>
<polyline points="370.76,285.4 407.3,311.39 443.84,315.9 480.38,348.11 516.92,363.36 553.46,394.16" stroke="#e8b45a" stroke-width="1.0" fill="none" stroke-linejoin="round"/>
<path d="M443.84 312.01V319.79M441.84 312.01h4M441.84 319.79h4M553.46 391.83V396.5M551.46 391.83h4M551.46 396.5h4" stroke="#cc8c30" stroke-width="0.9" fill="none"/>
<polygon points="368.38,285.4 372.66,283.02 372.66,287.78" fill="#cc8c30"/>
<polygon points="404.92,311.39 409.2,309.01 409.2,313.76" fill="#cc8c30"/>
<polygon points="441.46,315.9 445.74,313.52 445.74,318.27" fill="#cc8c30"/>
<polygon points="478,348.11 482.28,345.73 482.28,350.48" fill="#cc8c30"/>
<polygon points="514.54,363.36 518.82,360.98 518.82,365.73" fill="#cc8c30"/>
<polygon points="551.08,394.16 555.36,391.79 555.36,396.54" fill="#cc8c30"/>
<polyline points="370.76,285.4 407.3,285.4 443.84,304.69 480.38,335.5 516.92,361.02 553.46,387.32" stroke="#48d8dc" stroke-width="1.0" fill="none" stroke-linejoin="round"/>
<path d="M443.84 301.27V308.12M441.84 301.27h4M441.84 308.12h4M516.92 359.47V362.58M514.92 359.47h4M514.92 362.58h4" stroke="#14bcca" stroke-width="0.9" fill="none"/>
<polygon points="373.14,285.4 368.86,283.02 368.86,287.78" fill="#14bcca"/>
<polygon points="409.68,285.4 405.4,283.02 405.4,287.78" fill="#14bcca"/>
<polygon points="446.22,304.69 441.94,302.32 441.94,307.07" fill="#14bcca"/>
<polygon points="482.76,335.5 478.48,333.13 478.48,337.88" fill="#14bcca"/>
<polygon points="519.3,361.02 515.02,358.65 515.02,363.4" fill="#14bcca"/>
<polygon points="555.84,387.32 551.56,384.94 551.56,389.69" fill="#14bcca"/>
<rect x="352.6" y="355" width="55.8" height="93.7" fill="#fff" stroke="#707078" stroke-width="1.3"/>
<path d="M353.8 362H373.1" stroke="#858585" stroke-width="1.25"/>
<rect x="361.35" y="360.35" width="3.3" height="3.3" fill="#3a3a3a"/>
<text x="377.7" y="365.8" class="lg">Xe light</text>
<path d="M353.8 374H373.1" stroke="#ff8080" stroke-width="1.25"/>
<circle cx="363" cy="374" r="1.73" fill="#f42222"/>
<text x="375.3" y="378" class="lg">TiO<tspan class="sb" dy="2.1">2</tspan></text>
<path d="M353.8 388.8H373.1" stroke="#74a9eb" stroke-width="1.25"/>
<polygon points="363,386.62 365.18,390.54 360.82,390.54" fill="#1e56d0"/>
<text x="375.3" y="392.4" class="lg">P-TiO<tspan class="sb" dy="2.1">2</tspan></text>
<path d="M353.8 403.1H373.1" stroke="#74c9a9" stroke-width="1.25"/>
<polygon points="363,405.28 365.18,401.36 360.82,401.36" fill="#1a9060"/>
<text x="375.3" y="407.4" class="lg">g-C<tspan class="sb" dy="2.1">3</tspan><tspan dy="-2.1">N</tspan><tspan class="sb" dy="2.1">4</tspan></text>
<path d="M353.8 417.8H373.1" stroke="#cda7f2" stroke-width="1.25"/>
<polygon points="363,415.62 365.18,417.8 363,419.98 360.82,417.8" fill="#a868dc"/>
<text x="375.3" y="421.3" class="lg">CNPT-3</text>
<path d="M353.8 430.3H373.1" stroke="#ebbf73" stroke-width="1.25"/>
<polygon points="360.82,430.3 364.74,428.12 364.74,432.48" fill="#cc8c30"/>
<text x="375.3" y="433.6" class="lg">CNPT-6</text>
<path d="M353.8 442.1H373.1" stroke="#63dee1" stroke-width="1.25"/>
<polygon points="365.18,442.1 361.26,439.92 361.26,444.28" fill="#14bcca"/>
<text x="375.3" y="445.6" class="lg">CNPT-12</text></g>
</svg>
</body></html>
